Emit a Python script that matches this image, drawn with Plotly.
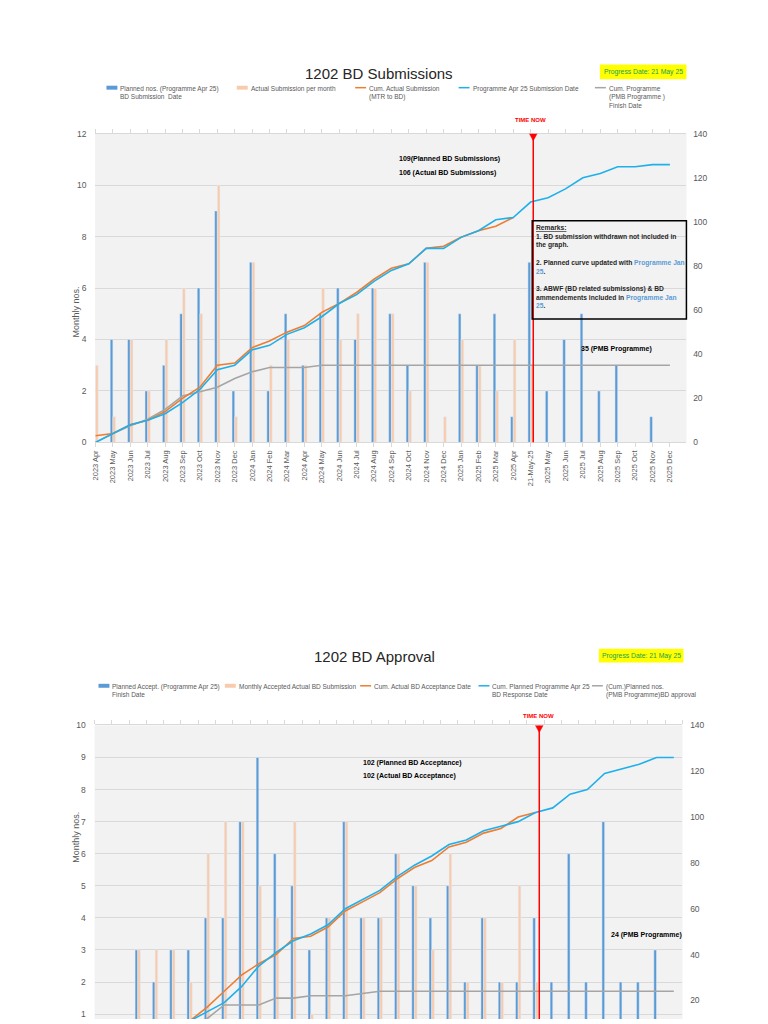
import plotly.graph_objects as go

W, H = 768, 1024

# ---------------- data ----------------
categories = ["2023 Apr", "2023 May", "2023 Jun", "2023 Jul", "2023 Aug", "2023 Sep", "2023 Oct",
              "2023 Nov", "2023 Dec", "2024 Jan", "2024 Feb", "2024 Mar", "2024 Apr", "2024 May",
              "2024 Jun", "2024 Jul", "2024 Aug", "2024 Sep", "2024 Oct", "2024 Nov", "2024 Dec",
              "2025 Jan", "2025 Feb", "2025 Mar", "2025 Apr", "21-May-25", "2025 May", "2025 Jun",
              "2025 Jul", "2025 Aug", "2025 Sep", "2025 Oct", "2025 Nov", "2025 Dec"]
time_now_label = "21-May-25"

# Chart 1 : 1202 BD Submissions
sub_planned = [0, 4, 4, 2, 3, 5, 6, 9, 2, 7, 2, 5, 3, 5, 6, 4, 6, 5, 3, 7, 0, 5, 3, 5, 1, 7, 2, 4, 5, 2, 3, 0, 1, 0]
sub_actual = [3, 1, 4, 2, 4, 6, 5, 10, 1, 7, 3, 4, 3, 6, 4, 5, 6, 5, 2, 7, 1, 4, 3, 2, 4, 3]
sub_cum_actual = [3, 4, 8, 10, 14, 20, 25, 35, 36, 43, 46, 50, 53, 59, 63, 68, 74, 79, 81, 88, 89, 93, 96, 98, 102]
sub_cum_planned = [0, 4, 8, 10, 13, 18, 24, 33, 35, 42, 44, 49, 52, 57, 63, 67, 73, 78, 81, 88, 88, 93, 96, 101,
                   102, 109, 111, 115, 120, 122, 125, 125, 126, 126]
sub_cum_pmb = [0, 4, 7.5, 10.5, 15, 21, 23, 25, 29, 32, 34, 34, 34, 35, 35, 35, 35, 35, 35, 35, 35, 35, 35, 35,
               35, 35, 35, 35, 35, 35, 35, 35, 35, 35]

# Chart 2 : 1202 BD Approval
app_planned = [0, 0, 3, 2, 3, 3, 4, 4, 7, 9, 6, 5, 3, 4, 7, 4, 4, 6, 5, 4, 5, 2, 4, 2, 2, 4, 2, 6, 2, 7, 2, 2, 3, 0]
app_actual = [0, 0, 3, 3, 3, 2, 6, 7, 7, 5, 4, 7, 1, 4, 7, 4, 4, 6, 5, 3, 6, 2, 4, 2, 5, 2]
app_cum_actual = [0, 0, 3, 6, 9, 11, 17, 24, 31, 36, 40, 47, 48, 52, 59, 63, 67, 73, 78, 81, 87, 89, 93, 95, 100, 102]
app_cum_planned = [0, 0, 3, 5, 8, 11, 15, 19, 26, 35, 41, 46, 49, 53, 60, 64, 68, 74, 79, 83, 88, 90, 94, 96, 98,
                   102, 104, 110, 112, 119, 121, 123, 126, 126]
app_cum_pmb = [0, 0, 0, 1, 3, 6, 12, 18, 18, 18, 21, 21, 22, 22, 22, 23, 24, 24, 24, 24, 24, 24, 24, 24, 24, 24,
               24, 24, 24, 24, 24, 24, 24, 24]

# ---------------- styles ----------------
BLUE = "#5B9BD5"
PEACH = "#F8CBAD"
ORANGE = "#ED7D31"
CYAN = "#1FB0EC"
GREY = "#A5A5A5"
GRID = "#D9D9D9"
TXT = "#595959"
FONT = "Liberation Sans, Arial, sans-serif"


def X(px):
    return px / W


def Y(py):
    return 1 - py / H


# plot areas in pixels
p1 = dict(l=91.6, r=686, t=130, b=441.7)
p2 = dict(l=91, r=682, t=727.5, b=1024)
left2_max = 10.0
left2_min = left2_max - (p2["b"] - p2["t"]) / 32.4
right2_min = left2_min * 14

BW = 0.155

fig = go.Figure()

# ---- chart 1 traces ----
fig.add_trace(go.Bar(x=categories, y=sub_planned, marker_color=BLUE, width=BW, offset=-BW,
                     xaxis="x", yaxis="y", name="Planned nos. (Programme Apr 25) BD Submission  Date"))
fig.add_trace(go.Bar(x=categories[:len(sub_actual)], y=sub_actual, marker_color=PEACH, width=BW, offset=0,
                     xaxis="x", yaxis="y", name="Actual Submission per month"))
fig.add_trace(go.Scatter(x=categories, y=sub_cum_pmb, mode="lines", line=dict(color=GREY, width=1.6),
                         xaxis="x", yaxis="y2", name="Cum. Programme (PMB Programme ) Finish Date"))
fig.add_trace(go.Scatter(x=categories[:len(sub_cum_actual)], y=sub_cum_actual, mode="lines",
                         line=dict(color=ORANGE, width=1.6), xaxis="x", yaxis="y2",
                         name="Cum. Actual Submission (MTR to BD)"))
fig.add_trace(go.Scatter(x=categories, y=sub_cum_planned, mode="lines", line=dict(color=CYAN, width=1.6),
                         xaxis="x", yaxis="y2", name="Programme Apr 25 Submission Date"))

# ---- chart 2 traces ----
fig.add_trace(go.Bar(x=categories, y=app_planned, marker_color=BLUE, width=BW, offset=-BW,
                     xaxis="x2", yaxis="y3", name="Planned Accept. (Programme Apr 25) Finish Date"))
fig.add_trace(go.Bar(x=categories[:len(app_actual)], y=app_actual, marker_color=PEACH, width=BW, offset=0,
                     xaxis="x2", yaxis="y3", name="Monthly Accepted Actual BD Submission"))
fig.add_trace(go.Scatter(x=categories, y=app_cum_pmb, mode="lines", line=dict(color=GREY, width=1.6),
                         xaxis="x2", yaxis="y4", name="(Cum.)Planned nos. (PMB Programme)BD approval"))
fig.add_trace(go.Scatter(x=categories[:len(app_cum_actual)], y=app_cum_actual, mode="lines",
                         line=dict(color=ORANGE, width=1.6), xaxis="x2", yaxis="y4",
                         name="Cum. Actual BD Acceptance Date"))
fig.add_trace(go.Scatter(x=categories, y=app_cum_planned, mode="lines", line=dict(color=CYAN, width=1.6),
                         xaxis="x2", yaxis="y4", name="Cum. Planned Programme Apr 25 BD Response Date"))

tick_font = dict(family=FONT, size=8.5, color=TXT)

fig.update_layout(
    width=W, height=H,
    margin=dict(l=0, r=0, t=0, b=0),
    paper_bgcolor="white",
    plot_bgcolor="#F2F2F2",
    showlegend=False,
    barmode="overlay",
    font=dict(family=FONT, color=TXT),
    xaxis=dict(domain=[X(p1["l"]), X(p1["r"])], anchor="y", type="category",
               categoryorder="array", categoryarray=categories,
               range=[-0.02, 33.95], tickangle=-90, tickfont=dict(family=FONT, size=7.5, color=TXT),
               showline=True, linecolor=GRID, linewidth=1, mirror="ticks",
               ticks="outside", ticklen=4, tickcolor=GRID, showgrid=False, zeroline=False),
    yaxis=dict(domain=[Y(p1["b"]), Y(p1["t"])], anchor="x", range=[0, 12], dtick=2,
               showgrid=True, gridcolor=GRID, gridwidth=1, zeroline=False,
               ticks="outside", ticklen=6, tickcolor="rgba(0,0,0,0)", tickfont=tick_font),
    yaxis2=dict(overlaying="y", side="right", anchor="x", range=[0, 140], dtick=20,
                showgrid=False, zeroline=False,
                ticks="outside", ticklen=4, tickcolor="rgba(0,0,0,0)", tickfont=tick_font),
    xaxis2=dict(domain=[X(p2["l"]), X(p2["r"])], anchor="y3", type="category",
                categoryorder="array", categoryarray=categories, side="top",
                range=[-0.5, 33.5], showticklabels=False, tickson="boundaries",
                showline=True, linecolor=GRID, linewidth=1,
                ticks="outside", ticklen=4, tickcolor=GRID, showgrid=False, zeroline=False),
    yaxis3=dict(domain=[0, Y(p2["t"])], anchor="x2", range=[left2_min, left2_max], tick0=0, dtick=1,
                showgrid=True, gridcolor=GRID, gridwidth=1, zeroline=False,
                ticks="outside", ticklen=6, tickcolor="rgba(0,0,0,0)", tickfont=tick_font),
    yaxis4=dict(overlaying="y3", side="right", anchor="x2", range=[right2_min, 140], tick0=0, dtick=20,
                showgrid=False, zeroline=False,
                ticks="outside", ticklen=5, tickcolor="rgba(0,0,0,0)", tickfont=tick_font),
)

shapes = []
annotations = []

tn = categories.index(time_now_label)


def time_now(xref, yref, top, bottom, xpos, label_y):
    shapes.append(dict(type="line", xref=xref, yref=yref, x0=xpos, x1=xpos, y0=bottom, y1=top,
                       line=dict(color="#FF0000", width=1.5), layer="above"))
    shapes.append(dict(type="path", xref=xref, yref=yref, xsizemode="pixel", ysizemode="pixel",
                       xanchor=xpos, yanchor=top, path="M-5.5,3 L5.5,3 L0,-7 Z",
                       fillcolor="#FF0000", line=dict(color="#FF0000", width=0.5), layer="above"))


time_now("x", "y", 12, 0, tn + 0.15, 116)
time_now("x2", "y3", left2_max, left2_min, tn + 0.22, 718)


def text(xp, yp, s, size=7, color="#000000", bold=False, xanchor="left", yanchor="middle", align="left",
         family=FONT, **kw):
    annotations.append(dict(xref="paper", yref="paper", x=X(xp), y=Y(yp), text=("<b>%s</b>" % s) if bold else s,
                            showarrow=False, xanchor=xanchor, yanchor=yanchor, align=align,
                            font=dict(family=family, size=size, color=color), **kw))


# titles
text(377, 69, "1202 BD Submissions", size=15, color="#262626", xanchor="center")
text(372, 658, "1202 BD Approval", size=15, color="#262626", xanchor="center")

# progress date boxes
for (x0, x1, y0, y1) in [(599, 686, 60, 75), (598, 683, 650, 664)]:
    shapes.append(dict(type="rect", xref="paper", yref="paper", x0=X(x0), x1=X(x1), y0=Y(y1), y1=Y(y0),
                       fillcolor="#FFFF00", line=dict(width=0), layer="above"))
    text((x0 + x1) / 2, (y0 + y1) / 2, "Progress Date: 21 May 25", size=6.8, color="#1AA050",
         xanchor="center")

# TIME NOW labels
text(529, 116, "TIME NOW", size=6, color="#FF0000", bold=True, xanchor="center")
text(537, 718, "TIME NOW", size=6, color="#FF0000", bold=True, xanchor="center")

# y axis titles
annotations.append(dict(xref="paper", yref="paper", x=X(65), y=Y(282), text="Monthly nos.", textangle=-90,
                        showarrow=False, font=dict(family=FONT, size=9, color=TXT)))
annotations.append(dict(xref="paper", yref="paper", x=X(65), y=Y(868), text="Monthly nos.", textangle=-90,
                        showarrow=False, font=dict(family=FONT, size=9, color=TXT)))

# chart notes
text(395, 156, "109(Planned BD Submissions)", size=7, bold=True)
text(395, 169.5, "106 (Actual BD Submissions)", size=7, bold=True)
text(578, 347, "35 (PMB Programme)", size=7, bold=True)
text(359, 765, "102 (Planned BD Acceptance)", size=7, bold=True)
text(359, 779, "102 (Actual BD Acceptance)", size=7, bold=True)
text(608, 939, "24 (PMB Programme)", size=7, bold=True)

# remarks box
shapes.append(dict(type="rect", xref="paper", yref="paper", x0=X(531), x1=X(686), y0=Y(317), y1=Y(218),
                   line=dict(color="#000000", width=1.5), fillcolor="rgba(0,0,0,0)", layer="above"))
blue_span = "<span style='color:#5B9BD5'>%s</span>"
remarks = "<br>".join([
    "<u>Remarks:</u>",
    "1. BD submission withdrawn not included in",
    "the graph.",
    " ",
    "2. Planned curve updated with " + blue_span % "Programme Jan",
    blue_span % "25" + ".",
    " ",
    "3. ABWF (BD related submissions) &amp; BD",
    "ammendements included in " + blue_span % "Programme Jan",
    blue_span % "25" + ".",
])
text(533, 219.5, remarks, size=6.7, color="#262626", bold=True, yanchor="top")

# manual legends
def legend_item(kind, color, x, y, label):
    if kind == "bar":
        shapes.append(dict(type="rect", xref="paper", yref="paper", x0=X(x), x1=X(x + 11), y0=Y(y + 2),
                           y1=Y(y - 2), fillcolor=color, line=dict(width=0)))
    else:
        shapes.append(dict(type="line", xref="paper", yref="paper", x0=X(x), x1=X(x + 11), y0=Y(y), y1=Y(y),
                           line=dict(color=color, width=1.5)))
    text(x + 12, y - 5, label, size=6.5, color=TXT, yanchor="top")


ly1 = 83.5
legend_item("bar", BLUE, 103, ly1, "Planned nos. (Programme Apr 25)<br>BD Submission  Date")
legend_item("bar", PEACH, 234, ly1, "Actual Submission per month")
legend_item("line", ORANGE, 353, ly1, "Cum. Actual Submission<br>(MTR to BD)")
legend_item("line", CYAN, 457, ly1, "Programme Apr 25 Submission Date")
legend_item("line", GREY, 594, ly1, "Cum. Programme<br>(PMB Programme )<br>Finish Date")

ly2 = 687.5
legend_item("bar", BLUE, 95, ly2, "Planned Accept. (Programme Apr 25)<br>Finish Date")
legend_item("bar", PEACH, 222, ly2, "Monthly Accepted Actual BD Submission")
legend_item("line", ORANGE, 358, ly2, "Cum. Actual BD Acceptance Date")
legend_item("line", CYAN, 477, ly2, "Cum. Planned Programme Apr 25<br>BD Response Date")
legend_item("line", GREY, 591, ly2, "(Cum.)Planned nos.<br>(PMB Programme)BD approval")

fig.update_layout(shapes=shapes, annotations=annotations)

fig.write_html("out.html")
